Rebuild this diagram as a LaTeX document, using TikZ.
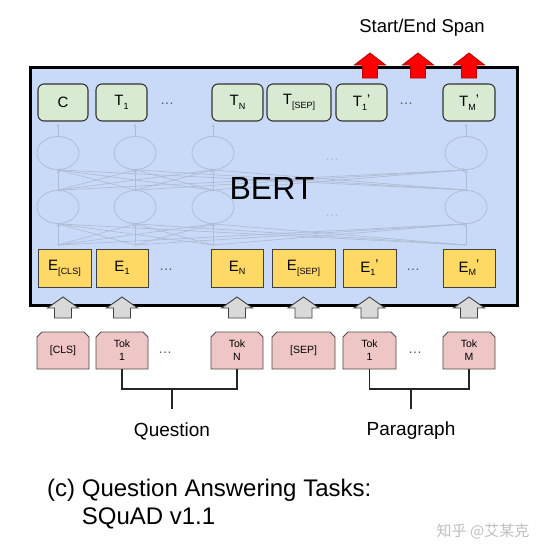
\documentclass[tikz,border=0pt]{standalone}
\usepackage{fontspec}
\setmainfont{Liberation Sans}
\newfontfamily\cjkfont{Noto Sans CJK SC}
\usetikzlibrary{shapes.misc,shapes.geometric,arrows.meta}
\definecolor{bertbg}{HTML}{C9DAF8}
\definecolor{tgreen}{HTML}{D9EAD3}
\definecolor{eyellow}{HTML}{FFD966}
\definecolor{tokpink}{HTML}{EFC6C6}
\definecolor{faintc}{RGB}{176,188,212}
\definecolor{arrgray}{HTML}{D9D9D9}
\definecolor{redarr}{HTML}{FF0000}
\newcommand{\fs}[1]{\fontsize{#1}{#1}\selectfont}
\newcommand{\sbx}[1]{\raisebox{-0.45ex}{\fs{9}#1}}
\newcommand{\sbsp}[2]{\raisebox{-0.45ex}{\fs{9}#1}\raisebox{0.35ex}{\fs{14}#2}}
\tikzset{
  tbox/.style={draw=black!80, line width=1.1, fill=tgreen, rounded corners=6,
    minimum height=37, inner sep=0, font=\fs{15}},
  ebox/.style={draw=black!75, line width=1, fill=eyellow,
    minimum height=38, inner sep=0, font=\fs{15}},
  tokbox/.style={chamfered rectangle, chamfered rectangle corners={north west, north east},
    chamfered rectangle xsep=2.5, chamfered rectangle ysep=2.5,
    draw=black!70, line width=0.9, fill=tokpink, minimum height=37, inner sep=0,
    align=center, font=\fontsize{10.5}{13}\selectfont},
  dotsl/.style={font=\fs{14}, text=black!65, inner sep=0},
  faintell/.style={ellipse, draw=faintc, line width=0.8, minimum width=42, minimum height=33, inner sep=0},
  faintln/.style={draw=faintc, line width=0.7},
  bracket/.style={draw=black!85, line width=1.1},
  redup/.pic={\path[pic actions] (0,0)--(15.5,12)--(7.5,12)--(7.5,25)--(-7.5,25)--(-7.5,12)--(-15.5,12)--cycle;},
  grayup/.pic={\path[pic actions] (0,0)--(15.5,11)--(8.5,11)--(8.5,21)--(-8.5,21)--(-8.5,11)--(-15.5,11)--cycle;},
}
\begin{document}
\begin{tikzpicture}[x=1pt,y=-1pt]
\useasboundingbox (0,0) rectangle (549,551);
\fill[white] (0,0) rectangle (549,551);

% BERT box
\node[draw=black, line width=3, fill=bertbg, minimum width=487, minimum height=238, inner sep=0] (bert) at (273.5,186) {};

% faint hidden layers
\foreach \x [count=\i] in {58,135,213,466} {
  \node[faintell] (u\i) at (\x,153) {};
  \node[faintell] (l\i) at (\x,207) {};
  \coordinate (b\i) at (\x,245);
  \coordinate (top\i) at (\x,124);
}
\foreach \i in {1,...,4} {
  \foreach \j in {1,...,4} {
    \draw[faintln, -{Stealth[length=3,width=3]}] (b\i) -- (l\j.south);
    \draw[faintln, -{Stealth[length=3,width=3]}] (l\i.north) -- (u\j.south);
  }
  \draw[faintln, -{Stealth[length=3,width=3]}] (u\i.north) -- (top\i);
}
\node[dotsl, text=faintc] (fd1) at (332,160) {\dots};
\node[dotsl, text=faintc] (fd2) at (332,216) {\dots};

\node[font=\fs{32}, inner sep=0] (bertlbl) at (272,188.5) {BERT};

% output row
\node[tbox, minimum width=50] (c) at (63,102.5) {C};
\node[tbox, minimum width=51] (t1) at (121.5,102.5) {T\sbx{1}};
\node[dotsl] (td1) at (167,104) {\dots};
\node[tbox, minimum width=51] (tn) at (237.5,102.5) {T\sbx{N}};
\node[tbox, minimum width=64] (tsep) at (299,102.5) {T\sbx{[SEP]}};
\node[tbox, minimum width=51] (t1p) at (361.5,102.5) {T\sbsp{1}{'}};
\node[dotsl] (td2) at (406,104) {\dots};
\node[tbox, minimum width=52] (tmp) at (469,102.5) {T\sbsp{M}{'}};

% embedding row
\node[ebox, minimum width=53] (ecls) at (64.5,268) {E\sbx{[CLS]}};
\node[ebox, minimum width=52] (e1) at (122,268) {E\sbx{1}};
\node[dotsl] (ed1) at (166,270) {\dots};
\node[ebox, minimum width=52] (en) at (237,268) {E\sbx{N}};
\node[ebox, minimum width=63] (esep) at (303.5,268) {E\sbx{[SEP]}};
\node[ebox, minimum width=53] (e1p) at (369.5,268) {E\sbsp{1}{'}};
\node[dotsl] (ed2) at (413,270) {\dots};
\node[ebox, minimum width=52] (emp) at (469,268) {E\sbsp{M}{'}};

% token row
\node[tokbox, minimum width=52] (kcls) at (63,350.5) {[CLS]};
\node[tokbox, minimum width=52] (k1) at (122,350.5) {Tok\\1};
\node[dotsl] (kd1) at (165,353) {\dots};
\node[tokbox, minimum width=52] (kn) at (237,350.5) {Tok\\N};
\node[tokbox, minimum width=63] (ksep) at (303.5,350.5) {[SEP]};
\node[tokbox, minimum width=53] (k1p) at (369.5,350.5) {Tok\\1};
\node[dotsl] (kd2) at (415,353) {\dots};
\node[tokbox, minimum width=52] (km) at (469,350.5) {Tok\\M};

% gray input arrows
\coordinate (garr) at (0,297);
\foreach \k in {kcls,k1,kn,ksep,k1p,km} {
  \pic[fill=arrgray, draw=black!75, line width=0.9] at (\k |- garr) {grayup};
}

% red output arrows
\foreach \x in {370,418,469} {
  \pic[fill=redarr, draw=red!70!black, line width=0.8] at (\x,53) {redup};
}
\node[font=\fs{18.5}] (span) at (422,28) {Start/End Span};

% brackets
\coordinate (qj) at (172,389);
\coordinate (pj) at (411,389);
\draw[bracket] (k1.south) |- (kn.south |- qj) -- (kn.south);
\draw[bracket] (qj) -- ++(0,20);
\draw[bracket] (k1p.south) |- (km.south |- pj) -- (km.south);
\draw[bracket] (pj) -- ++(0,20);
\node[font=\fs{19}] (question) at (172,431) {Question};
\node[font=\fs{19}] (paragraph) at (411,431) {Paragraph};

% caption
\node[font=\fs{24}, anchor=base west, inner sep=0] (cap1) at (47,496) {(c) Question Answering Tasks:};
\node[font=\fs{24}, anchor=base west, inner sep=0] (cap2) at ([yshift=-28pt]cap1.base west) {\phantom{(c) }SQuAD v1.1};

% watermark
\node[font=\cjkfont\fs{15}, text=black!25, inner sep=0] (wm) at (483,531) {知乎 @艾某克};
\end{tikzpicture}
\end{document}
